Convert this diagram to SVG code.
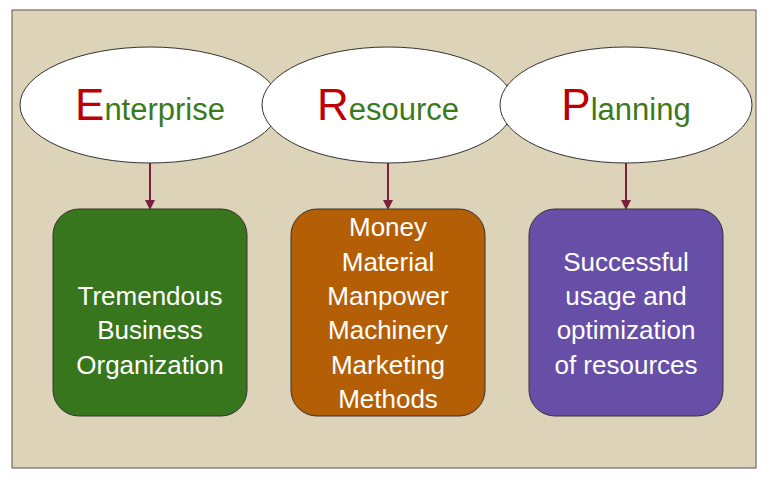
<svg xmlns="http://www.w3.org/2000/svg" width="768" height="480" viewBox="0 0 768 480">
<style>
.ell{fill:#fff;stroke:#333;stroke-width:1}
.t{font-family:"Liberation Sans",Arial,sans-serif;font-size:31px;fill:#3a7a1c;text-anchor:middle}
.cap{fill:#c00000;font-size:44px}
.box{stroke:#333;stroke-width:1}
.bt{font-family:"Liberation Sans",Arial,sans-serif;font-size:26px;fill:#fff;text-anchor:middle}
.c{stroke:#7a1f3d;stroke-width:2;fill:none;marker-end:url(#ah)}
</style>
<defs><marker id="ah" markerWidth="10" markerHeight="10" refX="8" refY="5" orient="auto" markerUnits="userSpaceOnUse"><path d="M0,0L10,5L0,10z" fill="#7a1f3d"/></marker></defs>
<rect width="768" height="480" fill="#fff"/>
<rect x="12" y="10" width="744" height="458" fill="#ddd3b8" stroke="#555"/>
<g id="connectors">
<line class="c" x1="150" y1="163" x2="150" y2="208"/>
<line class="c" x1="388" y1="163" x2="388" y2="208"/>
<line class="c" x1="626" y1="163" x2="626" y2="208"/>
</g>
<g id="enterprise"><ellipse class="ell" cx="150" cy="105" rx="130" ry="58"/><text class="t" x="150" y="120"><tspan class="cap">E</tspan>nterprise</text></g>
<g id="resource"><ellipse class="ell" cx="388" cy="105" rx="126" ry="58"/><text class="t" x="388" y="120"><tspan class="cap">R</tspan>esource</text></g>
<g id="planning"><ellipse class="ell" cx="626" cy="105" rx="126" ry="58"/><text class="t" x="626" y="120"><tspan class="cap">P</tspan>lanning</text></g>
<g id="box1"><rect class="box" x="53" y="209" width="194" height="207" rx="26" fill="#38761d"/>
<text class="bt" x="150" y="305">Tremendous</text><text class="bt" x="150" y="339">Business</text><text class="bt" x="150" y="374">Organization</text></g>
<g id="box2"><rect class="box" x="291" y="209" width="194" height="207" rx="26" fill="#b45f06"/>
<text class="bt" x="388" y="236">Money</text><text class="bt" x="388" y="271">Material</text><text class="bt" x="388" y="305">Manpower</text><text class="bt" x="388" y="339">Machinery</text><text class="bt" x="388" y="374">Marketing</text><text class="bt" x="388" y="408">Methods</text></g>
<g id="box3"><rect class="box" x="529" y="209" width="194" height="207" rx="26" fill="#674ea7"/>
<text class="bt" x="626" y="271">Successful</text><text class="bt" x="626" y="305">usage and</text><text class="bt" x="626" y="339">optimization</text><text class="bt" x="626" y="374">of resources</text></g>
</svg>
